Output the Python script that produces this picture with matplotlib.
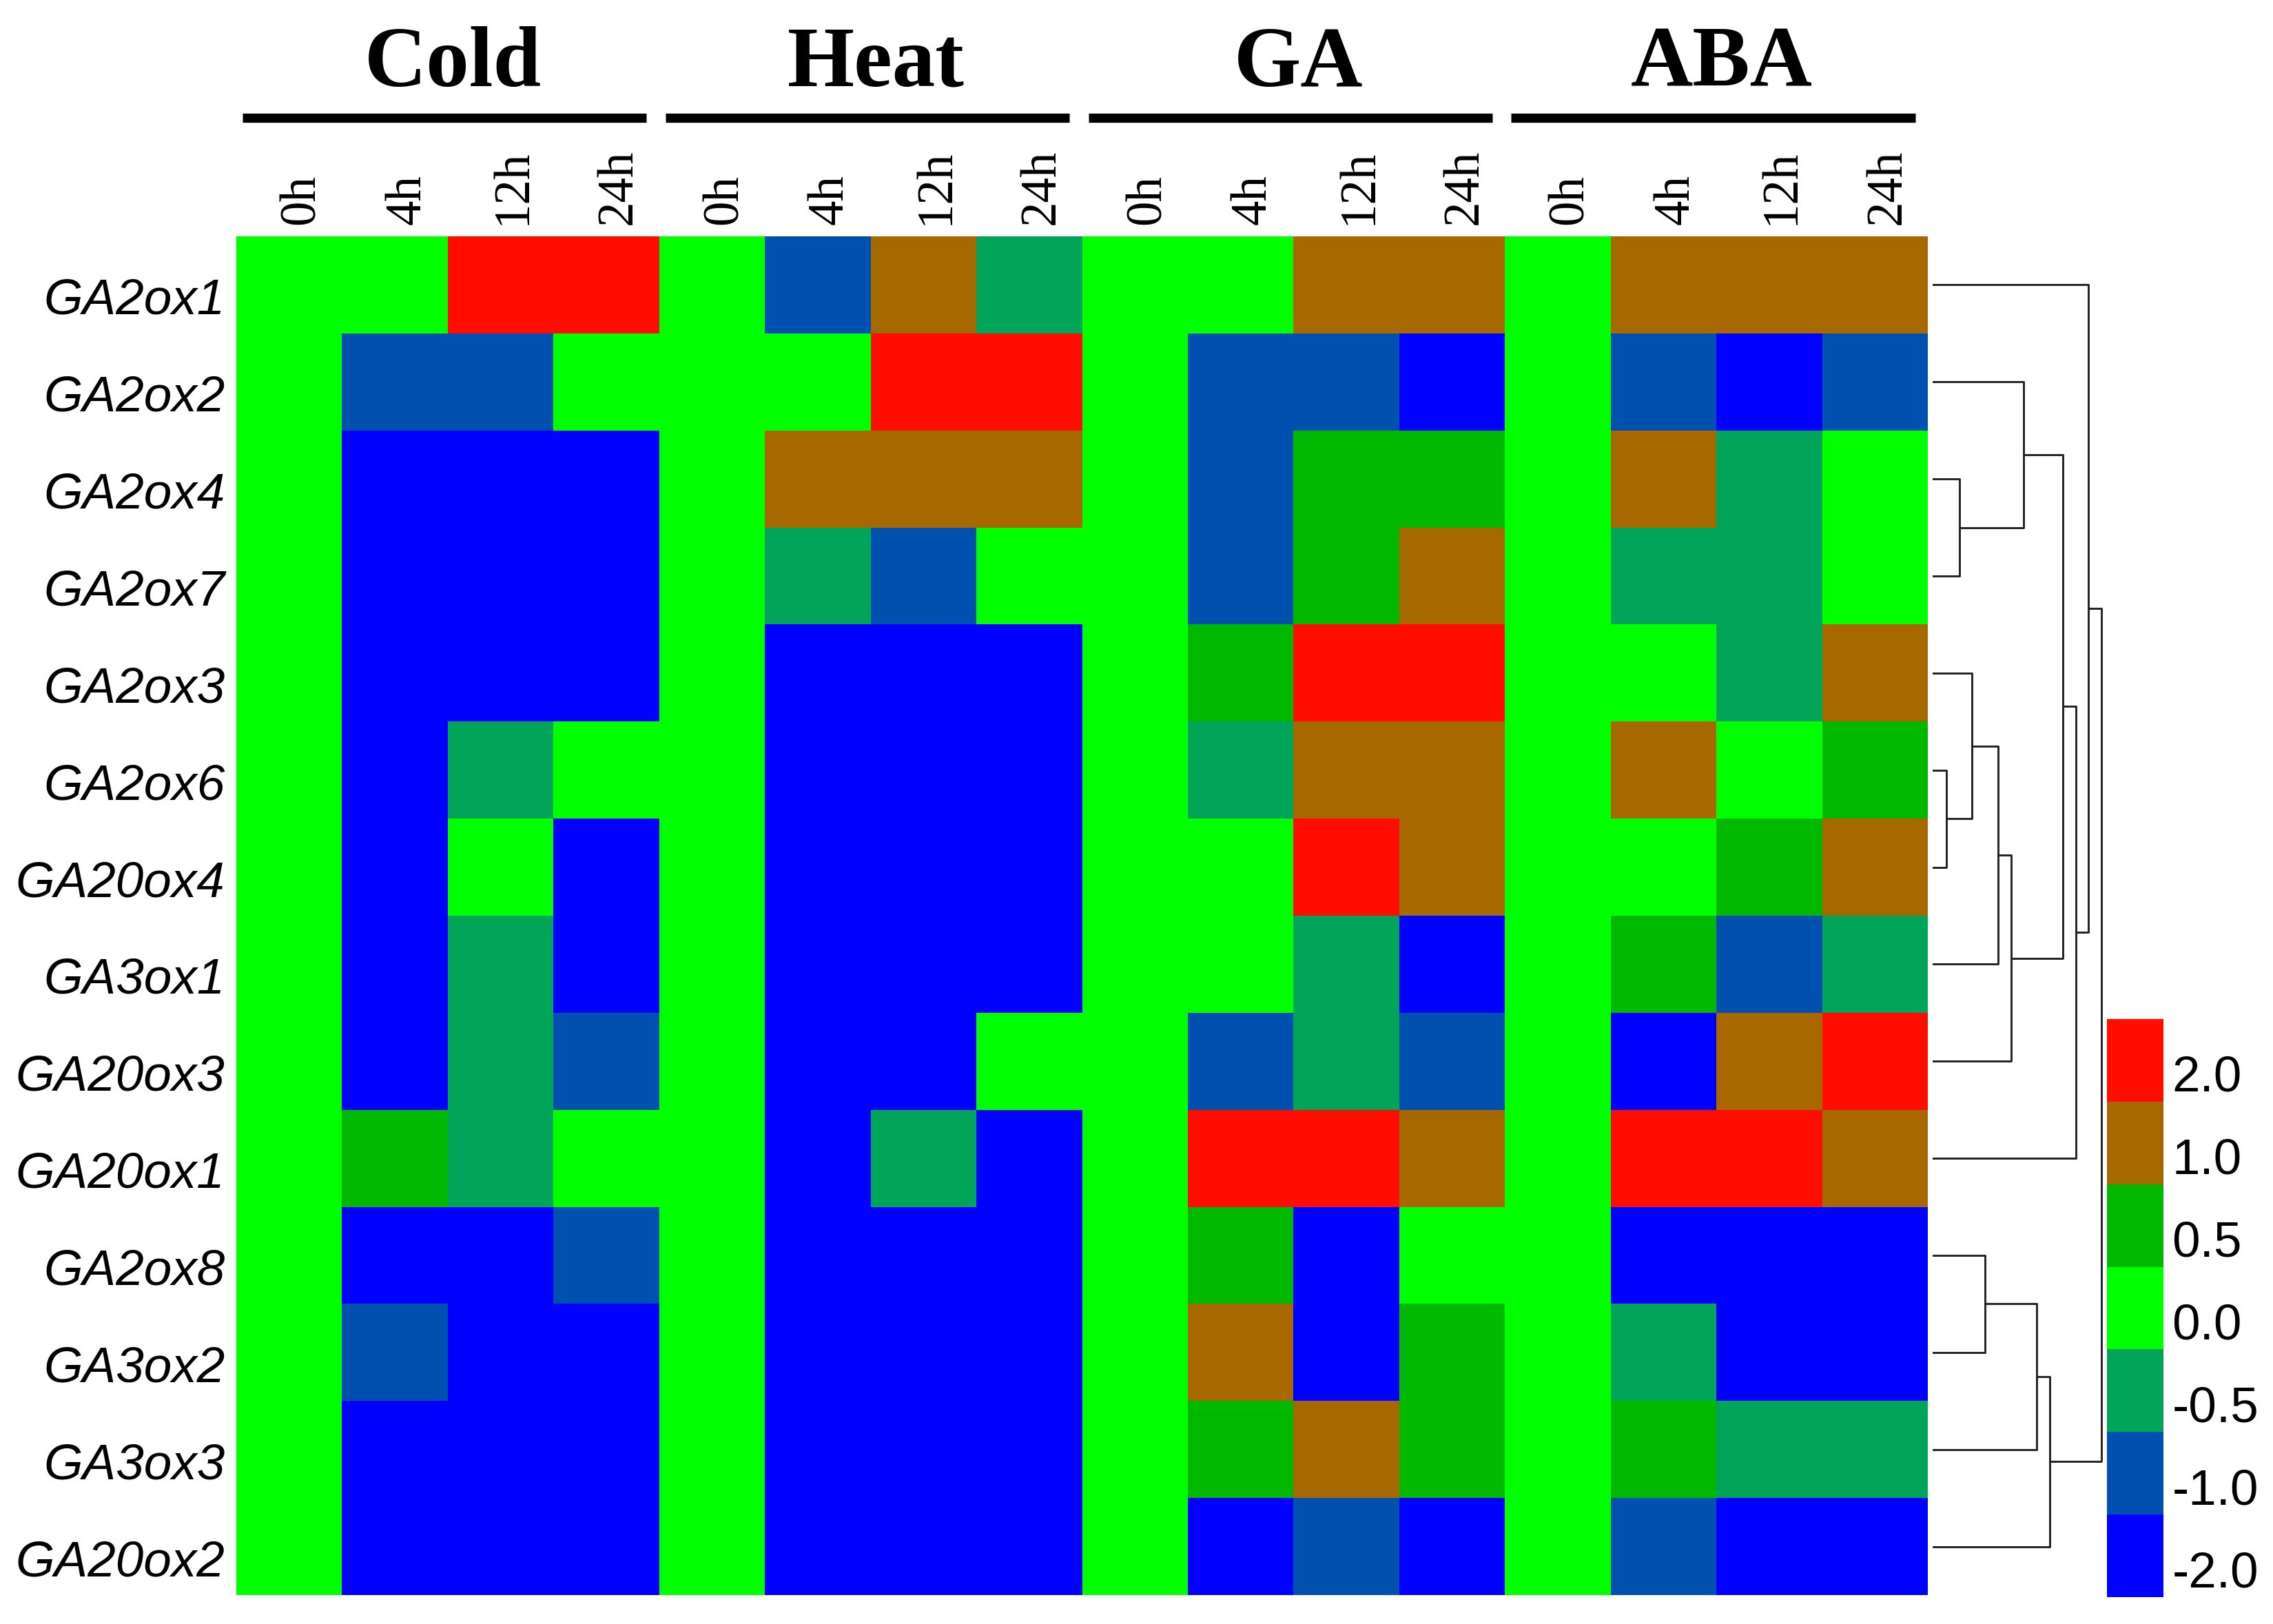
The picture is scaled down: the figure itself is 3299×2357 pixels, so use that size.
import numpy as np
import matplotlib.pyplot as plt
from matplotlib.colors import ListedColormap, BoundaryNorm
from matplotlib.transforms import ScaledTranslation

# gene names, top to bottom
genes = ['GA2ox1', 'GA2ox2', 'GA2ox4', 'GA2ox7', 'GA2ox3', 'GA2ox6', 'GA20ox4',
         'GA3ox1', 'GA20ox3', 'GA20ox1', 'GA2ox8', 'GA3ox2', 'GA3ox3', 'GA20ox2']
treatments = ['Cold', 'Heat', 'GA', 'ABA']
times = ['0h', '4h', '12h', '24h']

# expression level per treatment (rows = genes, cols = 0h, 4h, 12h, 24h)
cold = [[0, 0, 2.5, 2.5],
        [0, -0.75, -0.75, 0],
        [0, -1.5, -1.5, -1.5],
        [0, -1.5, -1.5, -1.5],
        [0, -1.5, -1.5, -1.5],
        [0, -1.5, -0.25, 0],
        [0, -1.5, 0, -1.5],
        [0, -1.5, -0.25, -1.5],
        [0, -1.5, -0.25, -0.75],
        [0, 0.75, -0.25, 0],
        [0, -1.5, -1.5, -0.75],
        [0, -0.75, -1.5, -1.5],
        [0, -1.5, -1.5, -1.5],
        [0, -1.5, -1.5, -1.5]]
heat = [[0, -0.75, 1.5, -0.25],
        [0, 0, 2.5, 2.5],
        [0, 1.5, 1.5, 1.5],
        [0, -0.25, -0.75, 0],
        [0, -1.5, -1.5, -1.5],
        [0, -1.5, -1.5, -1.5],
        [0, -1.5, -1.5, -1.5],
        [0, -1.5, -1.5, -1.5],
        [0, -1.5, -1.5, 0],
        [0, -1.5, -0.25, -1.5],
        [0, -1.5, -1.5, -1.5],
        [0, -1.5, -1.5, -1.5],
        [0, -1.5, -1.5, -1.5],
        [0, -1.5, -1.5, -1.5]]
ga = [[0, 0, 1.5, 1.5],
      [0, -0.75, -0.75, -1.5],
      [0, -0.75, 0.75, 0.75],
      [0, -0.75, 0.75, 1.5],
      [0, 0.75, 2.5, 2.5],
      [0, -0.25, 1.5, 1.5],
      [0, 0, 2.5, 1.5],
      [0, 0, -0.25, -1.5],
      [0, -0.75, -0.25, -0.75],
      [0, 2.5, 2.5, 1.5],
      [0, 0.75, -1.5, 0],
      [0, 1.5, -1.5, 0.75],
      [0, 0.75, 1.5, 0.75],
      [0, -1.5, -0.75, -1.5]]
aba = [[0, 1.5, 1.5, 1.5],
       [0, -0.75, -1.5, -0.75],
       [0, 1.5, -0.25, 0],
       [0, -0.25, -0.25, 0],
       [0, 0, -0.25, 1.5],
       [0, 1.5, 0, 0.75],
       [0, 0, 0.75, 1.5],
       [0, 0.75, -0.75, -0.25],
       [0, -1.5, 1.5, 2.5],
       [0, 2.5, 2.5, 1.5],
       [0, -1.5, -1.5, -1.5],
       [0, -0.25, -1.5, -1.5],
       [0, 0.75, -0.25, -0.25],
       [0, -0.75, -1.5, -1.5]]

# row dendrogram: (child a, child b, merge rank); leaves 0-13, new nodes from 14
merges = [(5, 6, 1), (2, 3, 2), (4, 14, 3), (10, 11, 4), (16, 7, 5),
          (18, 8, 6), (1, 15, 7), (17, 12, 8), (21, 13, 9), (20, 19, 10),
          (23, 9, 11), (0, 24, 12), (25, 22, 13)]

# colour legend
levels = [-2.0, -1.0, -0.5, 0.0, 0.5, 1.0, 2.0, 3.0]
colors = ['#0000ff', '#0050b0', '#00a55a', '#00ff00', '#00b800', '#a86800', '#ff0d00']
level_labels = ['-2.0', '-1.0', '-0.5', '0.0', '0.5', '1.0', '2.0']

data = np.hstack([np.array(cold), np.array(heat), np.array(ga), np.array(aba)])
cmap = ListedColormap(colors)
norm = BoundaryNorm(levels, cmap.N)

W, H = 3299, 2357
fig = plt.figure(figsize=(W / 300, H / 300), dpi=300)

hm_l, hm_r, hm_t, hm_b = 343, 2798, 343, 2315
ax = fig.add_axes([hm_l / W, 1 - hm_b / H, (hm_r - hm_l) / W, (hm_b - hm_t) / H])
mesh = ax.pcolormesh(data, cmap=cmap, norm=norm)
ax.set_xlim(0, data.shape[1])
ax.set_ylim(len(genes), 0)
for s in ax.spines.values():
    s.set_visible(False)

ax.set_yticks(np.arange(len(genes)) + 0.5)
ax.set_yticklabels(genes, family='Liberation Sans', style='italic', fontsize=17.5)
ax.tick_params(axis='y', length=0, pad=4)
ax.set_xticks([])
shift = ScaledTranslation(0, -16 / 300, fig.dpi_scale_trans)
for lab in ax.get_yticklabels():
    lab.set_transform(lab.get_transform() + shift)

# time labels above columns
for g in range(len(treatments)):
    for i, t in enumerate(times):
        c = g * 4 + i
        ax.text(c + 0.62, -0.12, t, rotation=90, ha='center', va='bottom',
                family='Liberation Serif', fontsize=17.5)

# treatment headers with bars
for g, name in enumerate(treatments):
    x0, x1 = g * 4, g * 4 + 4
    ax.plot([x0 + 0.06, x1 - 0.12], [-1.22, -1.22], color='black', lw=3.2,
            solid_capstyle='butt', clip_on=False)
    ax.text((x0 + x1) / 2 + 0.05, -1.55, name, ha='center', va='baseline',
            family='Liberation Serif', weight='bold', fontsize=30)

# dendrogram on the right
dx0, dx1 = 2798, 3052
dax = fig.add_axes([dx0 / W, 1 - hm_b / H, (dx1 - dx0) / W, (hm_b - hm_t) / H])
dax.set_xlim(-0.43, 13.1)
dax.set_ylim(len(genes), 0)
dax.axis('off')
pos = {i: (0.0, i + 0.5) for i in range(len(genes))}
for k, (a, b, h) in enumerate(merges):
    xa, ya = pos[a]
    xb, yb = pos[b]
    dax.plot([xa, h, h, xb], [ya, ya, yb, yb], color='#222222', lw=0.7,
             clip_on=False)
    pos[len(genes) + k] = (h, (ya + yb) / 2)

# colour key
cax = fig.add_axes([3058 / W, 1 - 2318 / H, 82 / W, (2318 - 1479) / H])
cb = fig.colorbar(mesh, cax=cax, ticks=levels[:-1], spacing='uniform')
cb.outline.set_visible(False)
cb.ax.minorticks_off()
cb.ax.set_yticklabels(level_labels, family='Liberation Sans', fontsize=17.5)
cb.ax.tick_params(which='both', length=0, pad=3)
for t in cb.ax.get_yticklabels():
    t.set_va('bottom')

fig.savefig('out.png', dpi=300)
